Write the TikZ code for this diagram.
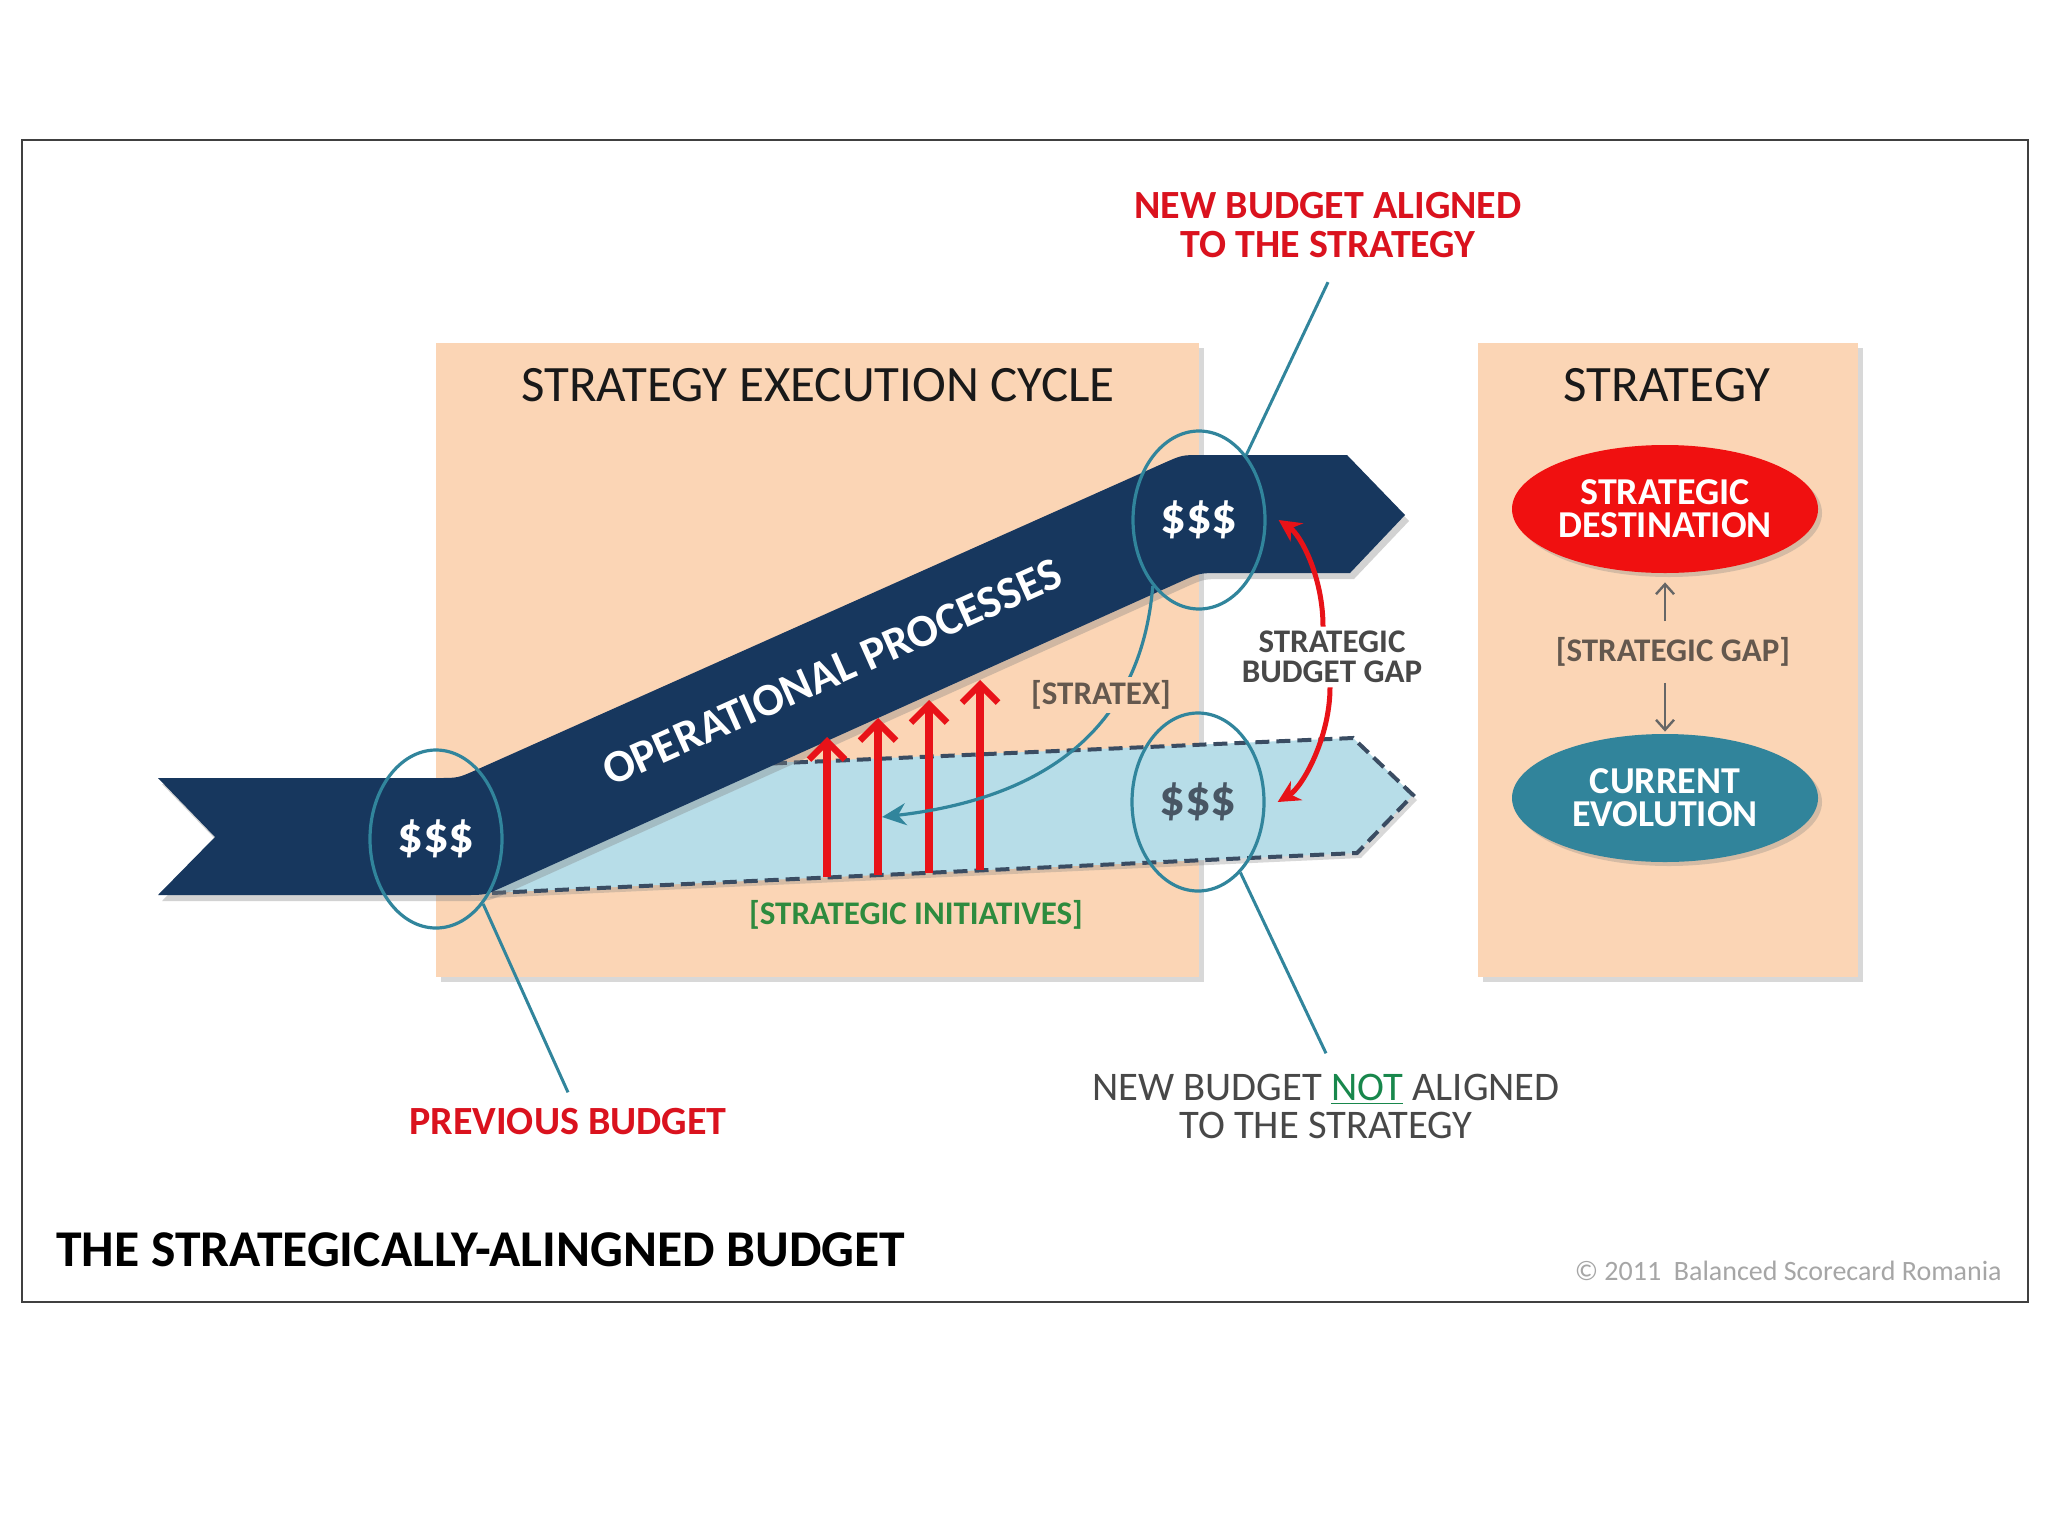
\documentclass[tikz,border=0pt]{standalone}
\usepackage{fontspec}
\setmainfont{Carlito}
\usetikzlibrary{shapes.geometric,arrows.meta,shadows}
\definecolor{navy}{RGB}{23,55,94}
\definecolor{lightband}{RGB}{183,221,232}
\definecolor{peach}{RGB}{251,213,181}
\definecolor{tealline}{RGB}{49,133,156}
\definecolor{destred}{RGB}{240,16,16}
\definecolor{evoblue}{RGB}{49,132,155}
\definecolor{labelred}{RGB}{218,18,30}
\definecolor{labelgreen}{RGB}{46,139,62}
\definecolor{notgreen}{RGB}{24,135,76}
\definecolor{darkgraytext}{RGB}{72,72,72}
\definecolor{browngray}{RGB}{100,88,78}
\definecolor{dashcol}{RGB}{58,76,98}
\definecolor{arrowred}{RGB}{232,18,24}
\definecolor{dollargray}{RGB}{72,86,100}
\begin{document}
\begin{tikzpicture}[x=0.5pt,y=-0.5pt,
  panel/.style={fill=peach, anchor=north west, inner sep=0pt,
    drop shadow={shadow xshift=2.5pt, shadow yshift=-2.5pt, opacity=0.3}},
  paneltitle/.style={font=\fontsize{25.5pt}{30pt}\selectfont, text=black!90, inner sep=0pt},
  money/.style={ellipse, draw=tealline, line width=1.6pt, minimum width=66pt,
    minimum height=89pt, inner sep=0pt, font=\bfseries\fontsize{25.5pt}{30pt}\selectfont},
  leader/.style={draw=tealline, line width=1.5pt},
  calloutlbl/.style={align=center, inner sep=0pt, font=\bfseries\fontsize{20pt}{19.5pt}\selectfont},
  smalllabel/.style={align=center, inner sep=2pt, font=\bfseries\fontsize{16.5pt}{15pt}\selectfont},
  goal/.style={ellipse, minimum width=153pt, minimum height=64pt, inner sep=0pt, text=white,
    align=center, font=\bfseries\fontsize{19pt}{16.5pt}\selectfont,
    drop shadow={shadow xshift=2pt, shadow yshift=-2pt, opacity=0.3}},
  initarrow/.style={draw=arrowred, line width=3.8pt,
    -{Straight Barb[length=9pt,width=18pt,line width=3.2pt]}},
  gaparrow/.style={draw=arrowred, line width=2.5pt, -{Stealth[length=11pt,width=11pt]}},
  grayarrow/.style={draw=black!60, line width=1.2pt, -{Straight Barb[length=5pt,width=9pt]}},
]
\useasboundingbox (0,0) rectangle (2048,1536);
\fill[white] (0,0) rectangle (2048,1536);
% frame
\draw[black!75, line width=1pt] (22,140) rectangle (2028,1302);

% panels
\node[panel, minimum width=381.5pt, minimum height=317pt] (secpanel) at (436,343) {};
\node[panel, minimum width=190pt, minimum height=317pt] (strpanel) at (1478,343) {};
\node[paneltitle] (sectitle) at (818,385) {STRATEGY EXECUTION CYCLE};
\node[paneltitle] (strtitle) at (1667,385) {STRATEGY};

% light (not aligned) band
\path[fill=lightband, drop shadow={shadow xshift=2pt, shadow yshift=-2.5pt, opacity=0.3}]
  (485,893) -- (1357,853) -- (1413,795) -- (1353,738) -- (700,766) -- cycle;
\draw[dashcol, line width=2pt, dash pattern=on 7pt off 3.5pt]
  (492,893) -- (1357,853) -- (1413,795) -- (1353,738) -- (760,764);

% dark band (operational processes)
\path[fill=navy, drop shadow={shadow xshift=2pt, shadow yshift=-3pt, opacity=0.35}]
  (158,778) -- (438,778) .. controls (458,778) .. (476,770) -- (1164,463)
  .. controls (1182,455) .. (1202,455) -- (1347,455) -- (1405,515) -- (1350,573)
  -- (1220,573) .. controls (1200,573) .. (1182,581) -- (503,887)
  .. controls (485,895) .. (465,895) -- (158,895) -- (215,837) -- cycle;
\node[rotate=24, text=white, inner sep=0pt, font=\bfseries\fontsize{23pt}{28pt}\selectfont]
  (ops) at (832,672) {OPERATIONAL PROCESSES};

% strategic initiatives arrows
\draw[initarrow] (827,877) -- (827,737);
\draw[initarrow] (878,875) -- (878,718);
\draw[initarrow] (929,873) -- (929,700);
\draw[initarrow] (980,870) -- (980,680);
\node[smalllabel, text=labelgreen] (init) at (916,915) {[STRATEGIC INITIATIVES]};

% budget ellipses
\node[money, text=white] (c1) at (436,839) {\$\$\$};
\node[money, text=white] (c2) at (1199,520) {\$\$\$};
\node[money, text=dollargray] (c3) at (1198,802) {\$\$\$};

% callout labels
\node[calloutlbl, text=labelred] (lblA) at (1328,225) {NEW BUDGET ALIGNED\\TO THE STRATEGY};
\node[calloutlbl, text=labelred] (lblPrev) at (568,1122) {PREVIOUS BUDGET};
\node[calloutlbl, text=darkgraytext, font=\fontsize{20.3pt}{19pt}\selectfont] (lblNot) at (1326,1106)
  {NEW BUDGET {\color{notgreen}\underline{NOT}} ALIGNED\\TO THE STRATEGY};
\draw[leader] (c2.54) -- ([yshift=-12pt]lblA.south);
\draw[leader] (c1.-54) -- ([yshift=8pt]lblPrev.north);
\draw[leader] (c3.-59) -- ([yshift=10pt]lblNot.north);

% stratex
\coordinate (stxend) at (882,817);
\draw[tealline, line width=1.6pt, -{Stealth[length=12pt,width=11pt]}]
  (c2.-125) .. controls (1140,740) and (1030,800) .. (stxend);
\node[smalllabel, text=browngray, fill=peach] (stx) at (1101,695) {[STRATEX]};

% strategic budget gap
\node[smalllabel, text=darkgraytext] (gaplbl) at (1332,657) {STRATEGIC\\BUDGET GAP};
\draw[gaparrow] ([xshift=-4.5pt]gaplbl.north) .. controls +(0,-50) and +(22,15) .. ([xshift=6pt]c2.east);
\draw[gaparrow] ([xshift=-1pt]gaplbl.south) .. controls +(0,50) and +(25,-15) .. ([xshift=6pt]c3.east);

% strategy panel content
\node[goal, fill=destred] (dest) at (1665,509) {STRATEGIC\\DESTINATION};
\node[goal, fill=evoblue] (evo) at (1665,798) {CURRENT\\EVOLUTION};
\node[smalllabel, text=browngray] (sgap) at (1673,652) {[STRATEGIC GAP]};
\draw[grayarrow, shorten <=6pt, shorten >=4.5pt] (dest.south |- sgap.north) -- (dest.south);
\draw[grayarrow, shorten <=6pt, shorten >=1pt] (evo.north |- sgap.south) -- (evo.north);

% bottom texts
\node[anchor=west, inner sep=0pt, font=\bfseries\fontsize{25.8pt}{30pt}\selectfont] (maintitle)
  at (56,1250) {THE STRATEGICALLY-ALINGNED BUDGET};
\node[anchor=east, inner sep=0pt, text=black!35, font=\fontsize{14pt}{17pt}\selectfont] (copy)
  at (2002,1271) {\textcopyright\ 2011\ \ Balanced Scorecard Romania};
\end{tikzpicture}
\end{document}
